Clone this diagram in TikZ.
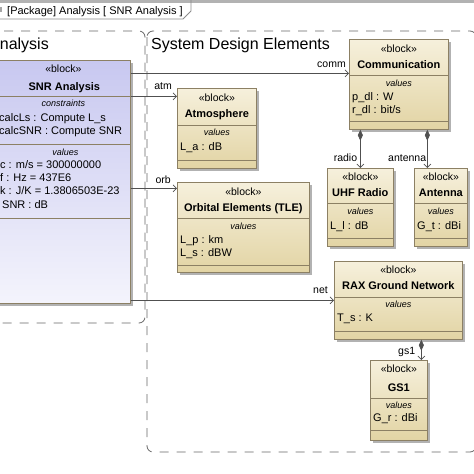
\documentclass[tikz,border=0pt]{standalone}
\usepackage{fontspec}
\setmainfont{Liberation Sans}
\usetikzlibrary{arrows.meta,shadows}
\definecolor{blocktop}{HTML}{F6F0DC}
\definecolor{blockbot}{HTML}{E2D4A4}
\definecolor{blockline}{HTML}{8C8064}
\definecolor{snrtop}{HTML}{C8C8F0}
\definecolor{snrbot}{HTML}{F4F4FC}
\definecolor{linegray}{HTML}{505050}

\begin{document}
\begin{tikzpicture}[x=1pt,y=-1pt]
   \tikzstyle{every node}=[inner sep=0pt, font=\fontsize{11}{13}\selectfont]
   \tikzstyle{block}=[draw=blockline, line width=0.7pt, anchor=north west, top color=blocktop, bottom color=blockbot, drop shadow={shadow xshift=2.5pt, shadow yshift=-2.5pt, fill=black, opacity=0.3}]
   \tikzstyle{snrblock}=[block, top color=snrtop, bottom color=snrbot]
   \tikzstyle{sep}=[draw=blockline, line width=0.6pt]
   \tikzstyle{stereo}=[anchor=base, font=\fontsize{10.5}{12}\selectfont]
   \tikzstyle{bname}=[anchor=base, font=\fontsize{11}{13}\selectfont\bfseries]
   \tikzstyle{comp}=[anchor=base, font=\fontsize{9}{11}\selectfont\itshape]
   \tikzstyle{prop}=[anchor=base west]
   \tikzstyle{lbl}=[anchor=base east, font=\fontsize{10.5}{12}\selectfont]
   \tikzstyle{title}=[anchor=base west, font=\fontsize{16}{19}\selectfont]
   \tikzstyle{conn}=[draw=linegray, line width=0.7pt, -{Straight Barb[length=3.5pt,width=7pt]}]
   \tikzstyle{part}=[conn, {Diamond[length=11pt,width=5pt]}-{Straight Barb[length=3.5pt,width=7pt]}]
   \tikzstyle{frame}=[draw=black!60, line width=0.8pt, dash pattern=on 9pt off 8pt, rounded corners=6pt]

\clip (0,0) rectangle (474,474);
\fill[black!30] (0,0) rectangle (474,2.5);
\fill[black!35] (-1,7) rectangle (2,12);
\draw[black!45, line width=0.8pt] (-5,19) -- (183,19) -- (191,11) -- (191,-2);
\node[anchor=base west] (tab) at (7,14) {[Package] Analysis [ SNR Analysis ]};

\draw[frame] (-20,31) rectangle (145,323);
\draw[frame] (147,31) rectangle (476,452);
\node[title] (antitle) at (-11,49) {Analysis};
\node[title] (sdetitle) at (151,49) {System Design Elements};

\node[snrblock, minimum width=190, minimum height=243] (snr) at (-60,60) {};
\draw[sep] ([yshift=-36]snr.north west) -- ([yshift=-36]snr.north east);
\draw[sep] ([yshift=-84]snr.north west) -- ([yshift=-84]snr.north east);
\draw[sep] ([yshift=-158]snr.north west) -- ([yshift=-158]snr.north east);
\node[stereo] (snr-st) at ([xshift=28,yshift=-12]snr.north) {«block»};
\node[bname] (snr-nm) at ([xshift=29,yshift=-30]snr.north) {SNR Analysis};
\node[comp] (snr-c) at ([xshift=28,yshift=-46.5]snr.north) {constraints};
\node[prop] (snr-c1) at ([xshift=59,yshift=-61]snr.north west) {calcLs : Compute L\_s};
\node[prop] (snr-c2) at ([xshift=59,yshift=-74.5]snr.north west) {calcSNR : Compute SNR};
\node[comp] (snr-v) at ([xshift=30,yshift=-95.5]snr.north) {values};
\node[prop] (snr-v1) at ([xshift=60,yshift=-108]snr.north west) {c : m/s = 300000000};
\node[prop] (snr-v2) at ([xshift=60,yshift=-121.5]snr.north west) {f : Hz = 437E6};
\node[prop] (snr-v3) at ([xshift=60,yshift=-134.5]snr.north west) {k : J/K = 1.3806503E-23};
\node[prop] (snr-v4) at ([xshift=62,yshift=-148]snr.north west) {SNR : dB};

\node[block, minimum width=79, minimum height=80] (atm) at (177,88) {};
\draw[sep] ([yshift=-37]atm.north west) -- ([yshift=-37]atm.north east);
\draw[sep] ([yshift=-72]atm.north west) -- ([yshift=-72]atm.north east);
\node[stereo] (atm-st) at ([yshift=-13]atm.north) {«block»};
\node[bname] (atm-nm) at ([yshift=-29]atm.north) {Atmosphere};
\node[comp] (atm-v) at ([yshift=-47]atm.north) {values};
\node[prop] (atm-v1) at ([xshift=3,yshift=-62]atm.north west) {L\_a : dB};

\node[block, minimum width=99, minimum height=90] (comm) at (349,39) {};
\draw[sep] ([yshift=-36]comm.north west) -- ([yshift=-36]comm.north east);
\draw[sep] ([yshift=-82]comm.north west) -- ([yshift=-82]comm.north east);
\node[stereo] (comm-st) at ([yshift=-13]comm.north) {«block»};
\node[bname] (comm-nm) at ([yshift=-29]comm.north) {Communication};
\node[comp] (comm-v) at ([yshift=-47]comm.north) {values};
\node[prop] (comm-v1) at ([xshift=3,yshift=-61]comm.north west) {p\_dl : W};
\node[prop] (comm-v2) at ([xshift=3,yshift=-74]comm.north west) {r\_dl : bit/s};

\node[block, minimum width=66, minimum height=78] (uhf) at (327,168) {};
\draw[sep] ([yshift=-35]uhf.north west) -- ([yshift=-35]uhf.north east);
\draw[sep] ([yshift=-70]uhf.north west) -- ([yshift=-70]uhf.north east);
\node[stereo] (uhf-st) at ([yshift=-12]uhf.north) {«block»};
\node[bname] (uhf-nm) at ([yshift=-28]uhf.north) {UHF Radio};
\node[comp] (uhf-v) at ([yshift=-46]uhf.north) {values};
\node[prop] (uhf-v1) at ([xshift=3,yshift=-61]uhf.north west) {L\_l : dB};

\node[block, minimum width=53, minimum height=78] (ant) at (414,168) {};
\draw[sep] ([yshift=-35]ant.north west) -- ([yshift=-35]ant.north east);
\draw[sep] ([yshift=-70]ant.north west) -- ([yshift=-70]ant.north east);
\node[stereo] (ant-st) at ([yshift=-12]ant.north) {«block»};
\node[bname] (ant-nm) at ([yshift=-28]ant.north) {Antenna};
\node[comp] (ant-v) at ([yshift=-46]ant.north) {values};
\node[prop] (ant-v1) at ([xshift=3,yshift=-61]ant.north west) {G\_t : dBi};

\node[block, minimum width=132, minimum height=90] (orb) at (177,182) {};
\draw[sep] ([yshift=-36]orb.north west) -- ([yshift=-36]orb.north east);
\draw[sep] ([yshift=-83]orb.north west) -- ([yshift=-83]orb.north east);
\node[stereo] (orb-st) at ([yshift=-13]orb.north) {«block»};
\node[bname] (orb-nm) at ([yshift=-29]orb.north) {Orbital Elements (TLE)};
\node[comp] (orb-v) at ([yshift=-47]orb.north) {values};
\node[prop] (orb-v1) at ([xshift=3,yshift=-61]orb.north west) {L\_p : km};
\node[prop] (orb-v2) at ([xshift=3,yshift=-74]orb.north west) {L\_s : dBW};

\node[block, minimum width=128, minimum height=78] (rax) at (334,261) {};
\draw[sep] ([yshift=-36]rax.north west) -- ([yshift=-36]rax.north east);
\draw[sep] ([yshift=-70]rax.north west) -- ([yshift=-70]rax.north east);
\node[stereo] (rax-st) at ([yshift=-12]rax.north) {«block»};
\node[bname] (rax-nm) at ([yshift=-28]rax.north) {RAX Ground Network};
\node[comp] (rax-v) at ([yshift=-46]rax.north) {values};
\node[prop] (rax-v1) at ([xshift=3,yshift=-60]rax.north west) {T\_s : K};

\node[block, minimum width=57, minimum height=80] (gs) at (370,360) {};
\draw[sep] ([yshift=-38]gs.north west) -- ([yshift=-38]gs.north east);
\draw[sep] ([yshift=-70]gs.north west) -- ([yshift=-70]gs.north east);
\node[stereo] (gs-st) at ([yshift=-12.5]gs.north) {«block»};
\node[bname] (gs-nm) at ([yshift=-31]gs.north) {GS1};
\node[comp] (gs-v) at ([yshift=-48]gs.north) {values};
\node[prop] (gs-v1) at ([xshift=3,yshift=-61]gs.north west) {G\_r : dBi};

\coordinate (commin) at ([yshift=11]comm.west);
\coordinate (atmin) at ([yshift=32]atm.west);
\coordinate (orbin) at ([yshift=39]orb.west);
\coordinate (antin) at ([xshift=-13.5]ant.north);
\coordinate (gsin) at ([xshift=22.5]gs.north);

\draw[conn] (snr.east |- commin) -- (commin);
\draw[conn] (snr.east |- atmin) -- (atmin);
\draw[conn] (snr.east |- orbin) -- (orbin);
\draw[conn] (snr.east |- rax.west) -- (rax.west);
\draw[part] (uhf.north |- comm.south) -- (uhf.north);
\draw[part] (antin |- comm.south) -- (antin);
\draw[part] (gsin |- rax.south) -- (gsin);

\node[lbl] (comm-l) at ([xshift=-3,yshift=6]commin) {comm};
\node[lbl] (atm-l) at ([xshift=-5,yshift=7]atmin) {atm};
\node[lbl] (orb-l) at ([xshift=-6,yshift=5]orbin) {orb};
\node[lbl] (net-l) at ([xshift=-6,yshift=7]rax.west) {net};
\node[lbl] (radio-l) at ([xshift=-3,yshift=7]uhf.north) {radio};
\node[lbl] (ant-l) at ([xshift=-1,yshift=7]antin) {antenna};
\node[lbl] (gs-l) at ([xshift=-6,yshift=6]gsin) {gs1};

\end{tikzpicture}
\end{document}
